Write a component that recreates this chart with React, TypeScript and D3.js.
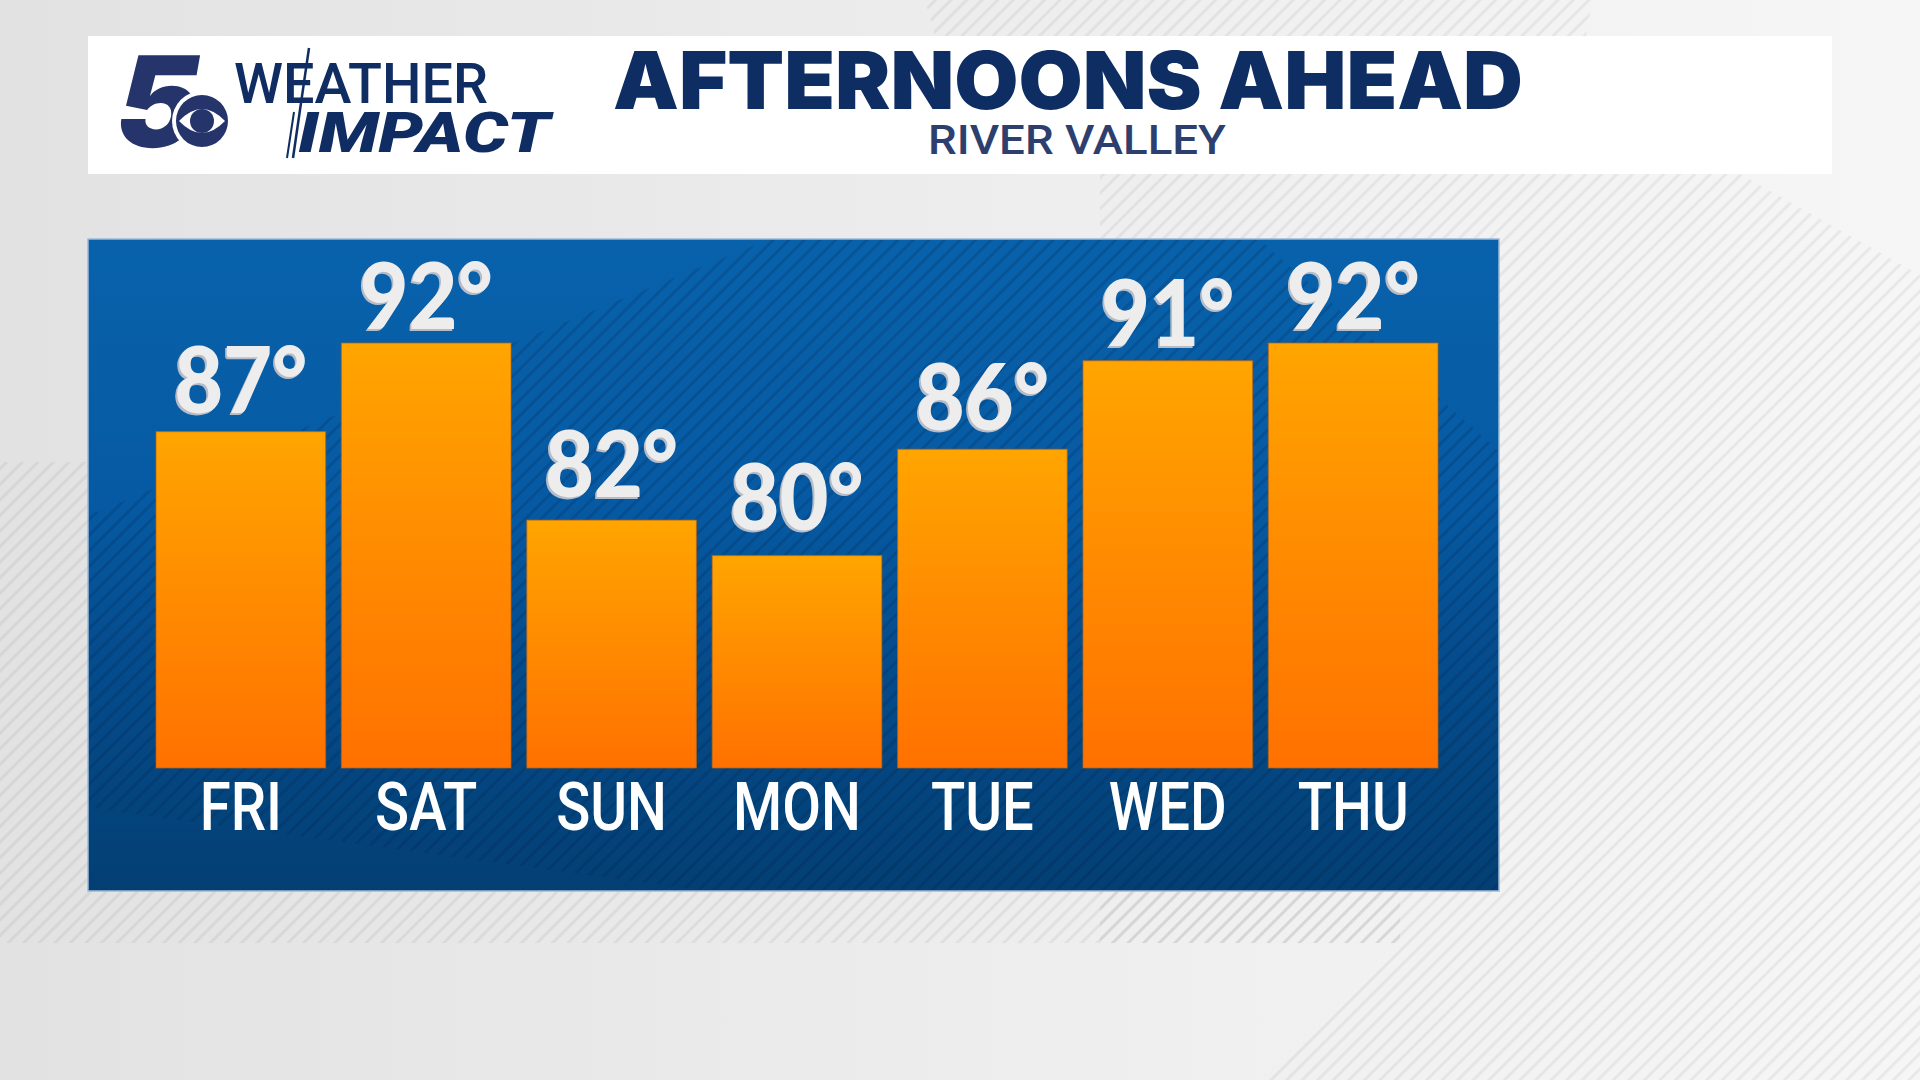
import React from 'react'
import * as d3 from 'd3'

const days = ['FRI', 'SAT', 'SUN', 'MON', 'TUE', 'WED', 'THU']
const highs = [87, 92, 82, 80, 86, 91, 92]
const title = 'AFTERNOONS AHEAD'
const subtitle = 'RIVER VALLEY'

const W = 1920
const H = 1080

const App = () => {
  // bar positions
  const x = d3.scaleBand<string>().domain(days).range([156, 1438]).paddingInner(0.085).paddingOuter(0)
  const y = d3.scaleLinear().domain([68, 92]).range([768, 343])
  // value labels sit a bit closer to the bars as they get taller
  const labelY = d3.scaleLinear().domain([68, 92]).range([731, 329])

  const rows = days.map((d, i) => ({ day: d, value: highs[i] }))

  return (
    <svg
      width={W}
      height={H}
      style={{ position: 'absolute', left: 0, top: 0, display: 'block' }}
    >
      <defs>
        <linearGradient id='bg' x1='0' x2='1' y1='0' y2='0'>
          <stop offset='0%' stopColor='#e2e2e2' />
          <stop offset='70%' stopColor='#f1f1f1' />
          <stop offset='100%' stopColor='#f6f6f6' />
        </linearGradient>
        <pattern id='stripes' width='11' height='11' patternUnits='userSpaceOnUse' patternTransform='rotate(45)'>
          <rect x='0' y='0' width='3' height='11' fill='#000' opacity='0.055' />
        </pattern>
        <pattern id='panelStripes' width='11' height='11' patternUnits='userSpaceOnUse' patternTransform='rotate(45)'>
          <rect x='0' y='0' width='3' height='11' fill='#001a3a' opacity='0.17' />
        </pattern>
        <linearGradient id='panel' x1='0' x2='0' y1='0' y2='1'>
          <stop offset='0%' stopColor='#0862ab' />
          <stop offset='40%' stopColor='#065aa3' />
          <stop offset='62%' stopColor='#054d8f' />
          <stop offset='100%' stopColor='#033f73' />
        </linearGradient>
        <linearGradient id='bar' x1='0' x2='0' y1='0' y2='1'>
          <stop offset='0%' stopColor='#ffa500' />
          <stop offset='100%' stopColor='#ff7100' />
        </linearGradient>
      </defs>

      {/* background */}
      <rect x={0} y={0} width={W} height={H} fill='url(#bg)' />
      <polygon points='925,0 1592,0 1586,36 935,36' fill='url(#stripes)' />
      <polygon points='1100,174 1740,174 1920,275 1920,1080 1261,1080 1395,943 1100,943' fill='url(#stripes)' />
      <rect x={0} y={462} width={1400} height={481} fill='url(#stripes)' />

      {/* header */}
      <rect x={88} y={36} width={1744} height={138} fill='#ffffff' />
      <g>
        <text
          x={110}
          y={147}
          fontFamily='Inter, Roboto, sans-serif'
          fontWeight={900}
          fontSize={126}
          fill='#25346b'
          transform='skewX(-10) translate(26,0)'
        >
          5
        </text>
        <circle cx={202} cy={121} r={30} fill='#ffffff' />
        <circle cx={202} cy={121} r={26} fill='#25346b' />
        <path d='M179,121 Q202,97 225,121 Q202,145 179,121 Z' fill='#ffffff' />
        <circle cx={202} cy={121} r={12} fill='#25346b' />
        <text
          x={234}
          y={103}
          fontFamily='Roboto, sans-serif'
          fontWeight={500}
          fontSize={56}
          fill='#0f2d62'
          textLength={254}
          lengthAdjust='spacingAndGlyphs'
        >
          WEATHER
        </text>
        <text
          x={298}
          y={152}
          fontFamily='Roboto, sans-serif'
          fontWeight={900}
          fontStyle='italic'
          fontSize={55}
          fill='#0f2d62'
          textLength={252}
          lengthAdjust='spacingAndGlyphs'
        >
          IMPACT
        </text>
        <line x1={309} y1={48} x2={293} y2={158} stroke='#0f2d62' strokeWidth={2.5} />
        <line x1={301} y1={112} x2={294} y2={158} stroke='#0f2d62' strokeWidth={2} transform='translate(-7,0)' />
      </g>
      <text
        x={1068}
        y={109}
        textAnchor='middle'
        fontFamily='Inter, Lato, sans-serif'
        fontWeight={900}
        fontSize={80}
        fill='#0e2d62'
        textLength={910}
        lengthAdjust='spacingAndGlyphs'
      >
        {title}
      </text>
      <text
        x={1077}
        y={154}
        textAnchor='middle'
        fontFamily='Roboto, sans-serif'
        fontWeight={500}
        fontSize={40}
        fill='#2d3f6e'
        textLength={298}
        lengthAdjust='spacingAndGlyphs'
      >
        {subtitle}
      </text>

      {/* blue panel */}
      <rect x={88} y={239} width={1411} height={652} fill='url(#panel)' stroke='#9cbbd9' strokeWidth={1.5} />
      <polygon
        points='768,240 1260,240 1498,450 1498,890 700,890 89,808 89,515'
        fill='url(#panelStripes)'
      />

      {/* bars */}
      {rows.map(r => (
        <rect
          key={r.day}
          x={x(r.day)}
          y={y(r.value)}
          width={x.bandwidth()}
          height={y(68) - y(r.value)}
          fill='url(#bar)'
          stroke='#b8620f'
          strokeOpacity={0.6}
          strokeWidth={1.2}
        />
      ))}

      {/* value labels */}
      {rows.map(r => {
        const cx = (x(r.day) ?? 0) + x.bandwidth() / 2
        const ly = labelY(r.value)
        return (
          <g key={'v' + r.day} transform={`translate(${cx},${ly}) scale(0.92,1)`}>
            <text
              x={-2}
              y={2}
              textAnchor='middle'
              fontFamily='Lato, Inter, sans-serif'
              fontWeight={900}
              fontSize={92}
              fill='#b6bcc7'
            >
              {r.value}°
            </text>
            <text
              x={0}
              y={0}
              textAnchor='middle'
              fontFamily='Lato, Inter, sans-serif'
              fontWeight={900}
              fontSize={92}
              fill='#ededed'
            >
              {r.value}°
            </text>
          </g>
        )
      })}

      {/* day labels */}
      {rows.map(r => {
        const cx = (x(r.day) ?? 0) + x.bandwidth() / 2
        return (
          <text
            key={'d' + r.day}
            transform={`translate(${cx},830) scale(0.84,1)`}
            textAnchor='middle'
            fontFamily='Roboto, sans-serif'
            fontWeight={500}
            fontSize={67}
            fill='#ffffff'
          >
            {r.day}
          </text>
        )
      })}
    </svg>
  )
}

export default App
